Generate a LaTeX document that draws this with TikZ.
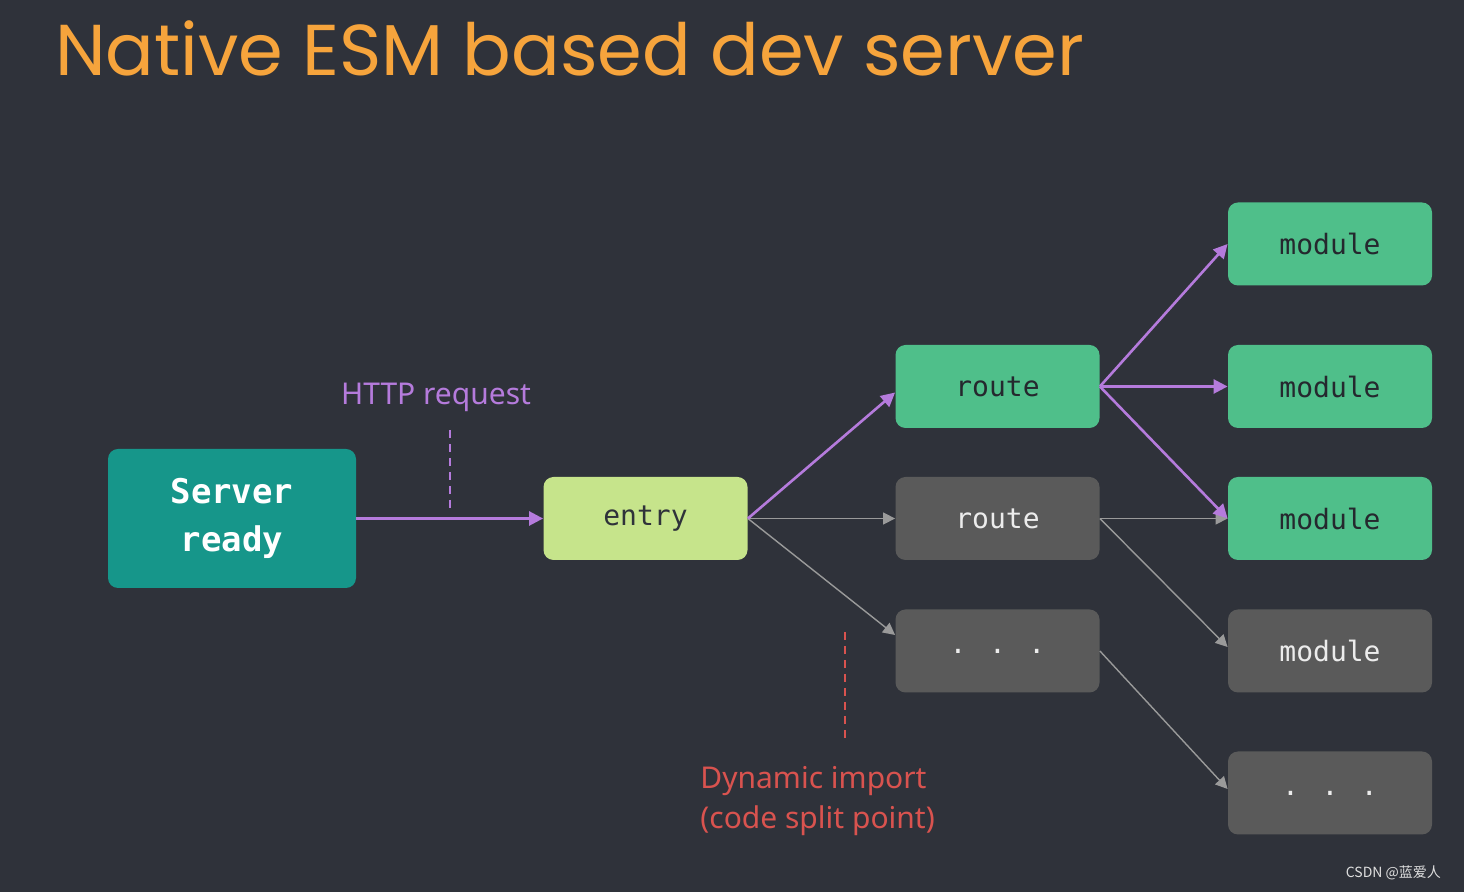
\documentclass[tikz,border=0pt]{standalone}
\usepackage{fontspec}
\setmainfont{Noto Sans}
\newfontfamily\titlefont{Poppins}
\newfontfamily\monofont{DejaVu Sans Mono}
\newfontfamily\cjk{Noto Sans CJK SC}
\usetikzlibrary{arrows.meta}
\definecolor{bg}{HTML}{2F323A}
\definecolor{ttl}{HTML}{F6A43C}
\definecolor{teal}{HTML}{16968A}
\definecolor{lime}{HTML}{C6E48B}
\definecolor{grn}{HTML}{4FBF8A}
\definecolor{gry}{HTML}{5A5A5A}
\definecolor{purp}{HTML}{B57BDC}
\definecolor{redt}{HTML}{D9534F}
\definecolor{arr}{HTML}{9A9A9A}
\begin{document}
\begin{tikzpicture}[x=0.5pt,y=0.5pt,yscale=-1,
  box/.style={rounded corners=5pt,minimum width=102pt,minimum height=41.5pt,inner sep=0pt,font=\monofont\fontsize{14}{16}\selectfont},
  gbox/.style={box,fill=grn,text=bg!80!black},
  dbox/.style={box,fill=gry,text=white!85!gray},
  pa/.style={purp,line width=1.3pt,-{Triangle[length=7pt,width=7pt]}},
  ga/.style={arr,line width=0.7pt,-{Triangle[length=6pt,width=6pt]}}]
\fill[bg] (0,0) rectangle (1464,892);
\useasboundingbox (0,0) rectangle (1464,892);
\node[anchor=west,text=ttl,font=\titlefont\fontsize{36}{40}\selectfont] (title) at (48,48) {Native ESM based dev server};
\node[box,fill=teal,text=white,minimum width=124pt,minimum height=69.5pt,align=center,font=\monofont\bfseries\fontsize{17}{24}\selectfont] (srv) at (232,518.5) {Server\\ready};
\node[box,fill=lime,text=bg] (entry) at (645.5,518.5) {entry};
\node[gbox] (r1) at (997.5,386.5) {route};
\node[dbox] (r2) at (997.5,518.5) {route};
\node[dbox] (r3) at (997.5,651) {. . .};
\node[gbox] (m1) at (1330,244) {module};
\node[gbox] (m2) at (1330,386.5) {module};
\node[gbox] (m3) at (1330,518.5) {module};
\node[dbox] (m4) at (1330,651) {module};
\node[dbox] (m5) at (1330,793) {. . .};
\draw[ga] (entry.east) -- (r2.west);
\draw[ga] (entry.east) -- ([yshift=-8pt]r3.west);
\draw[ga] (r2.east) -- (m3.west);
\draw[ga] (r2.east) -- ([yshift=-2pt]m4.west);
\draw[ga] (r3.east) -- ([yshift=-2pt]m5.west);
\draw[pa] (srv.east) -- (entry.west);
\draw[pa] (entry.east) -- ([yshift=3pt]r1.west);
\draw[pa] (r1.east) -- (m1.west);
\draw[pa] (r1.east) -- (m2.west);
\draw[pa] (r1.east) -- (m3.west);
\node[text=purp,font=\fontsize{15}{18}\selectfont] (http) at (436,397) {HTTP request};
\coordinate (h1) at (450,430); \coordinate (h2) at (450,512);
\draw[purp,line width=0.8pt,dash pattern=on 4pt off 3pt] (h1) -- (h2);
\coordinate (d1) at (845,632); \coordinate (d2) at (845,742);
\draw[redt,line width=0.8pt,dash pattern=on 4pt off 3pt] (d1) -- (d2);
\node[text=redt,anchor=north west,align=left,inner sep=0pt,font=\fontsize{15}{20}\selectfont] (dyn) at (700,766) {Dynamic import\\(code split point)};
\node[anchor=east,text=white!75!gray,font=\cjk\fontsize{7}{8}\selectfont] (wm) at (1448,873) {CSDN @蓝爱人};
\end{tikzpicture}
\end{document}
